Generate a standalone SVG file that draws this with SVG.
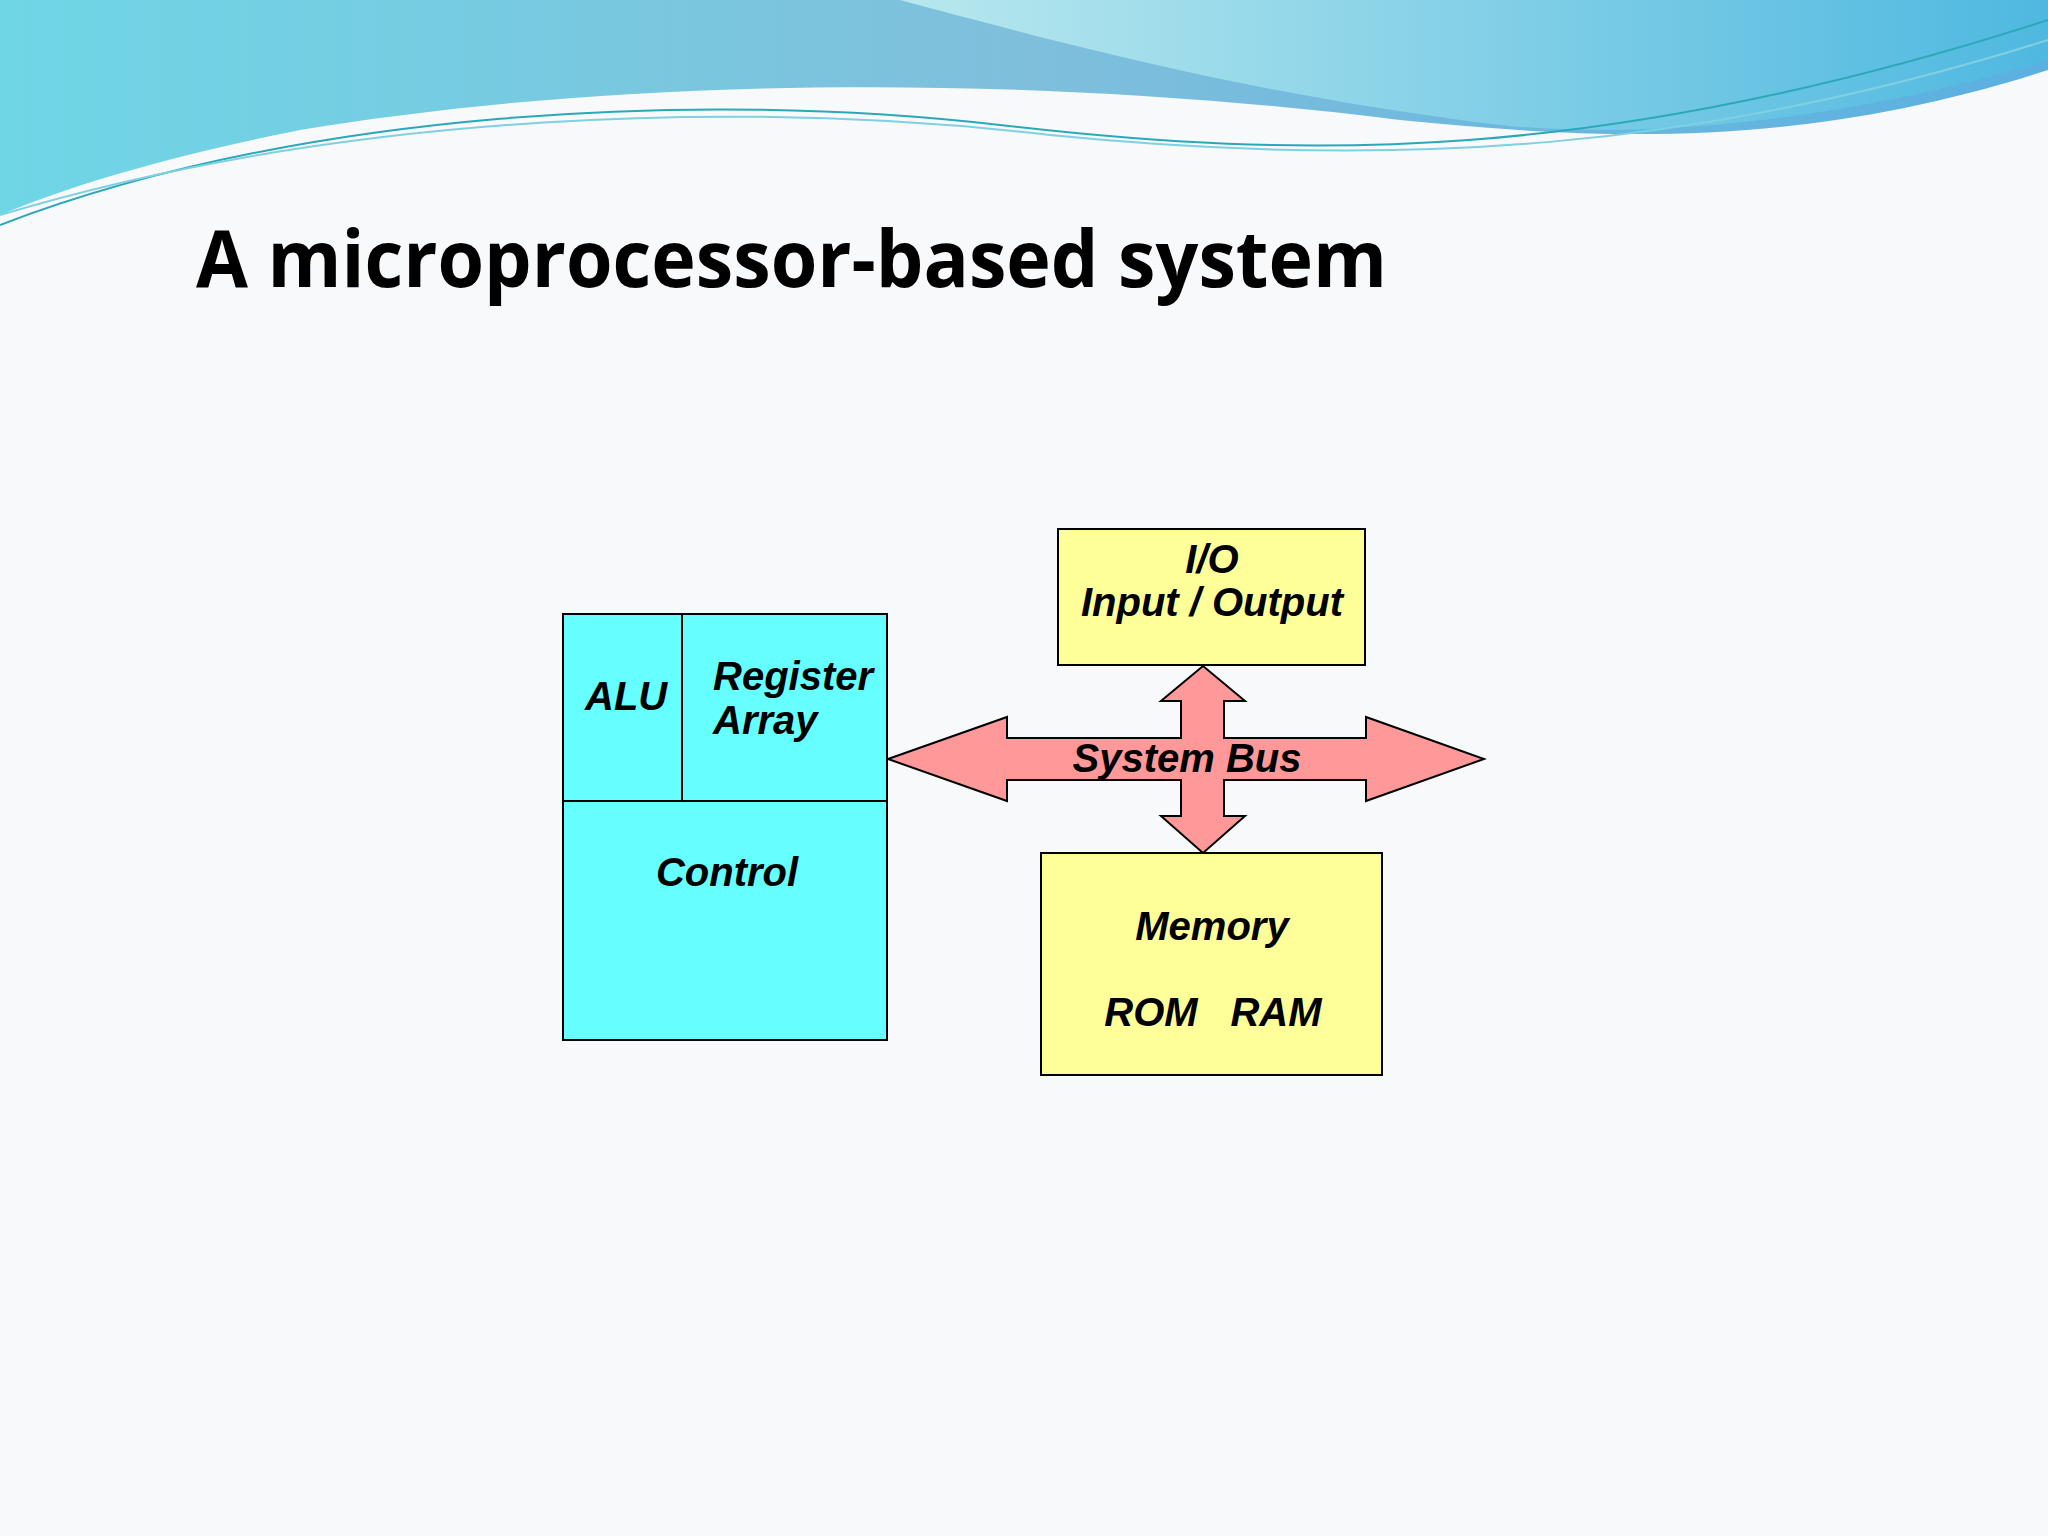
<svg xmlns="http://www.w3.org/2000/svg" width="2048" height="1536" viewBox="0 0 2048 1536">
<defs>
<linearGradient id="wave" x1="0" y1="0" x2="1" y2="0">
<stop offset="0" stop-color="#6fd6e6"/><stop offset="0.5" stop-color="#7fbfdc"/><stop offset="1" stop-color="#5ab0e0"/>
</linearGradient>
<linearGradient id="wave2" x1="0" y1="0" x2="1" y2="0">
<stop offset="0" stop-color="#b8e8ee"/><stop offset="1" stop-color="#4fb8e0"/>
</linearGradient>
<style>
.box{stroke:#000;stroke-width:2}
.cpu{fill:#66ffff}
.ext{fill:#ffff99}
.lbl{font-family:"Liberation Sans",Arial,sans-serif;font-weight:bold;font-style:italic;font-size:40px;fill:#000}
</style>
</defs>
<rect width="2048" height="1536" fill="#f8f9fb"/>
<path d="M0 0H2048V70C1800 150 1600 140 1400 120C1000 70 600 80 300 130C150 160 60 190 0 215Z" fill="url(#wave)"/>
<path d="M900 0H2048V60C1850 120 1650 140 1500 125C1250 95 1050 40 900 0Z" fill="url(#wave2)"/>
<path d="M0 225C300 110 700 90 1000 125C1300 160 1600 165 2048 20" fill="none" stroke="#2aa8b8" stroke-width="2"/>
<path d="M0 215C350 110 750 100 1050 135C1400 170 1700 150 2048 40" fill="none" stroke="#7fd0e0" stroke-width="2"/>
<text x="196" y="287" font-family="Open Sans,Liberation Sans,sans-serif" font-weight="bold" font-size="78" textLength="1191" lengthAdjust="spacingAndGlyphs" fill="#000">A microprocessor-based system</text>
<g id="connectors">
<path class="box" fill="#ff9999" d="M888 759L1007 717V738H1181V701H1161L1203 666L1245 701H1224V738H1366V717L1484 759L1366 801V780H1224V816H1245L1203 853L1161 816H1181V780H1007V801Z"/>
<text class="lbl" x="1187" y="772" text-anchor="middle">System Bus</text>
</g>
<g id="cpu">
<rect class="box cpu" x="563" y="614" width="324" height="426"/>
<line class="box" x1="563" y1="801" x2="887" y2="801"/>
<line class="box" x1="682" y1="614" x2="682" y2="801"/>
<text class="lbl" x="585" y="710">ALU</text>
<text class="lbl" x="713" y="690">Register</text>
<text class="lbl" x="713" y="734">Array</text>
<text class="lbl" x="727" y="886" text-anchor="middle">Control</text>
</g>
<g id="io">
<rect class="box ext" x="1058" y="529" width="307" height="136"/>
<text class="lbl" x="1212" y="573" text-anchor="middle">I/O</text>
<text class="lbl" x="1212" y="616" text-anchor="middle">Input / Output</text>
</g>
<g id="memory">
<rect class="box ext" x="1041" y="853" width="341" height="222"/>
<text class="lbl" x="1212" y="940" text-anchor="middle">Memory</text>
<text class="lbl" x="1151" y="1026" text-anchor="middle">ROM</text>
<text class="lbl" x="1276" y="1026" text-anchor="middle">RAM</text>
</g>
</svg>
